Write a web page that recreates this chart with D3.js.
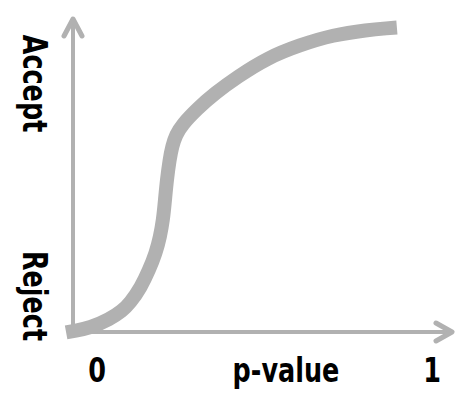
<!DOCTYPE html>
<html>
<head>
<meta charset="utf-8">
<script src="https://cdn.jsdelivr.net/npm/d3@7"></script>
<style>
  html, body { margin: 0; padding: 0; background: #fff; }
  svg { display: block; }
  .lbl { font-family: "DejaVu Sans", Verdana, sans-serif; font-weight: bold; fill: #000; }
</style>
</head>
<body>
<div id="chart"></div>
<script>
// decision curve: p-value (x) vs. reject(0) .. accept(1) (y)
var pValues  = [0, 0.045, 0.097, 0.129, 0.150, 0.179, 0.200, 0.218, 0.229, 0.237, 0.242, 0.247,
                0.254, 0.261, 0.271, 0.287, 0.326, 0.374, 0.432, 0.511, 0.597, 0.684, 0.774, 0.834];
var decision = [0.003, 0.013, 0.041, 0.067, 0.092, 0.143, 0.197, 0.252, 0.303, 0.357, 0.420, 0.484,
                0.548, 0.592, 0.628, 0.660, 0.710, 0.761, 0.812, 0.873, 0.914, 0.946, 0.962, 0.968];
var xTickLabels = ["0", "p-value", "1"];
var yTickLabels = ["Reject", "Accept"];

var W = 474, H = 399;
var grey = "#b1b1b1";

var svg = d3.select("#chart").append("svg")
    .attr("width", W)
    .attr("height", H);

//scales, axes run from 0 to 1 in both directions
var x = d3.scaleLinear().domain([0, 1]).range([73, 453]);
var y = d3.scaleLinear().domain([0, 1]).range([332, 18]);

var data = pValues.map(function(p, i){ return {p: p, d: decision[i]}; });

//axes with open arrow heads
var axisLine = d3.line();
svg.append("path")
    .attr("d", axisLine([[x(0), y(0)], [x(0), y(1) + 3]]))
    .attr("stroke", grey).attr("stroke-width", 4).attr("fill", "none");
svg.append("path")
    .attr("d", axisLine([[x(0) - 9, y(1) + 18], [x(0), y(1) + 1], [x(0) + 9, y(1) + 18]]))
    .attr("stroke", grey).attr("stroke-width", 5).attr("fill", "none")
    .attr("stroke-linecap", "round").attr("stroke-linejoin", "round");

svg.append("path")
    .attr("d", axisLine([[x(0), y(0)], [x(1) - 3, y(0)]]))
    .attr("stroke", grey).attr("stroke-width", 4).attr("fill", "none");
svg.append("path")
    .attr("d", axisLine([[x(1) - 17, y(0) - 9], [x(1) - 1, y(0)], [x(1) - 17, y(0) + 9]]))
    .attr("stroke", grey).attr("stroke-width", 5).attr("fill", "none")
    .attr("stroke-linecap", "round").attr("stroke-linejoin", "round");

//the curve, smoothed
var curve = d3.line()
    .x(function(d){ return x(d.p); })
    .y(function(d){ return y(d.d); })
    .curve(d3.curveBasis);

svg.append("path")
    .datum(data)
    .attr("d", curve)
    .attr("fill", "none")
    .attr("stroke", grey)
    .attr("stroke-width", 14)
    .attr("stroke-linecap", "square");

//labels (stretched vertically like the original)
var fs = 25.5, stretch = 1.3;
var xLabelPos = [97, 286, 432];
xTickLabels.forEach(function(t, i){
    svg.append("text")
        .attr("class", "lbl")
        .attr("font-size", fs)
        .attr("text-anchor", "middle")
        .attr("transform", "translate(" + xLabelPos[i] + ",382) scale(1," + stretch + ")")
        .text(t);
});

var yLabelPos = [296, 83.5];
yTickLabels.forEach(function(t, i){
    svg.append("text")
        .attr("class", "lbl")
        .attr("font-size", fs)
        .attr("text-anchor", "middle")
        .attr("transform", "translate(23," + yLabelPos[i] + ") rotate(90) scale(1," + stretch + ")")
        .text(t);
});
</script>
</body>
</html>
